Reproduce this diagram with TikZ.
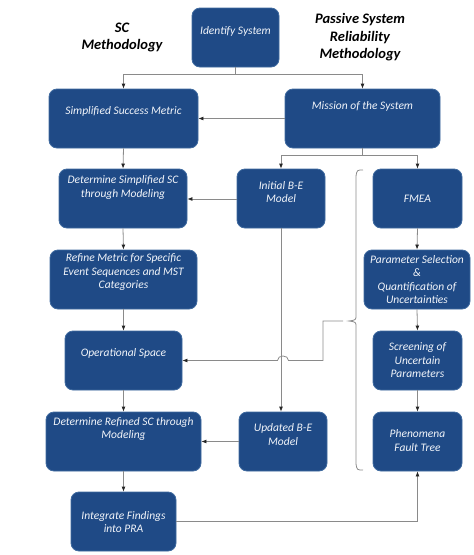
\documentclass[tikz,border=0pt]{standalone}
\usepackage{fontspec}
\setmainfont{Carlito}
\usetikzlibrary{arrows.meta}
\definecolor{boxblue}{HTML}{1F4A86}
\definecolor{boxedge}{HTML}{3F6A9F}
\definecolor{boxtext}{HTML}{F2F5FA}
\definecolor{linegray}{HTML}{8A8A8A}
\tikzset{
  box/.style={draw=boxedge, fill=boxblue, line width=0.8pt, rounded corners=8pt, inner sep=0pt},
  txt/.style={text=boxtext, font=\fontsize{11.5}{13.5}\selectfont\itshape, align=center, inner sep=0pt},
  head/.style={text=black, font=\fontsize{14.5}{17.5}\selectfont\bfseries\itshape, align=center, inner sep=0pt},
  ln/.style={draw=linegray, line width=0.8pt},
  arr/.style={ln, -{Latex[length=5pt,width=4pt,color=black!85]}},
}
\begin{document}
\begin{tikzpicture}[x=1pt,y=-1pt]
\useasboundingbox (0,0) rectangle (474,555);
% headers
\node[head] (hsc) at (122,37.5) {SC\\Methodology};
\node[head] (hps) at (360,37.5) {Passive System\\Reliability\\Methodology};
% boxes
\node[box, minimum width=87pt, minimum height=59pt] (ident) at (235.5,37.5) {};
\node[txt] (identt) at (235.5,31) {Identify System};
\node[box, minimum width=149pt, minimum height=59pt] (simp) at (123.5,118.5) {};
\node[txt] (simpt) at (123.5,111) {Simplified Success Metric};
\node[box, minimum width=155pt, minimum height=59pt] (miss) at (362.5,118.5) {};
\node[txt] (misst) at (362.5,106) {Mission of the System};
\node[box, minimum width=128pt, minimum height=59pt] (dets) at (123,198.5) {};
\node[txt] (detst) at (123,187.5) {Determine Simplified SC\\through Modeling};
\node[box, minimum width=88pt, minimum height=59pt] (ibe) at (281,198.5) {};
\node[txt] (ibet) at (281,192) {Initial B-E\\Model};
\node[box, minimum width=89pt, minimum height=59pt] (fmea) at (417.5,198.5) {};
\node[txt] (fmeat) at (417.5,199) {FMEA};
\node[box, minimum width=147pt, minimum height=59pt] (ref) at (123.5,279.5) {};
\node[txt] (reft) at (123.5,272.5) {Refine Metric for Specific\\Event Sequences and MST\\Categories};
\node[box, minimum width=106pt, minimum height=59pt] (par) at (417,279.5) {};
\node[txt] (part) at (417,279.5) {Parameter Selection\\\&\\Quantification of\\Uncertainties};
\node[box, minimum width=117pt, minimum height=59pt] (ops) at (123.5,360.5) {};
\node[txt] (opst) at (123.5,353) {Operational Space};
\node[box, minimum width=89pt, minimum height=59pt] (scr) at (417.5,360.5) {};
\node[txt] (scrt) at (417.5,360.5) {Screening of\\Uncertain\\Parameters};
\node[box, minimum width=155pt, minimum height=59pt] (detr) at (123.5,441.5) {};
\node[txt] (detrt) at (123.5,429) {Determine Refined SC through\\Modeling};
\node[box, minimum width=88pt, minimum height=59pt] (ube) at (283,441.5) {};
\node[txt] (ubet) at (283,434.5) {Updated B-E\\Model};
\node[box, minimum width=89pt, minimum height=59pt] (phen) at (417.5,441.5) {};
\node[txt] (phent) at (417.5,440.5) {Phenomena\\Fault Tree};
\node[box, minimum width=105pt, minimum height=59pt] (integ) at (123.5,521.5) {};
\node[txt] (integt) at (123.5,522) {Integrate Findings\\into PRA};
% connectors
\coordinate (j1) at (235.5,74);
\draw[ln] (ident.south) -- (j1);
\draw[arr] (j1) -| (simp.north);
\draw[arr] (j1) -| (miss.north);
\draw[arr] (miss.west) -- (simp.east);
\coordinate (j2) at (362.5,155);
\draw[ln] (miss.south) -- (j2);
\draw[arr] (j2) -| (ibe.north);
\draw[arr] (j2) -| (fmea.north);
\draw[arr] (simp.south) -- (dets.north);
\draw[arr] (ibe.west |- 0,199) -- (dets.east |- 0,199);
\draw[arr] (dets.south) -- (ref.north);
\draw[arr] (ref.south) -- (ops.north);
\draw[arr] (ops.south) -- (detr.north);
\draw[arr] (detr.south) -- (integ.north);
\draw[arr] (ibe.south) -- (ibe.south |- ube.north);
\draw[arr] (ube.west) -- (detr.east);
\draw[arr] (fmea.south) -- (par.north);
\draw[arr] (par.south) -- (scr.north);
\draw[arr] (scr.south) -- (phen.north);
\draw[arr] (integ.east) -| (phen.south);
% brace
\draw[ln] (363,170) .. controls (357,170) .. (356,176) -- (356,315)
  .. controls (356,320) .. (349,321) .. controls (356,322) .. (356,327)
  -- (356,464) .. controls (357,470) .. (363,470);
\coordinate (bt) at (343,321);
\draw[arr] (bt) -- (323,321) -- (323,360.5) -- (288.5,360.5)
  .. controls (288.5,354.5) and (277.5,354.5) .. (277.5,360.5) -- (ops.east);
\end{tikzpicture}
\end{document}
